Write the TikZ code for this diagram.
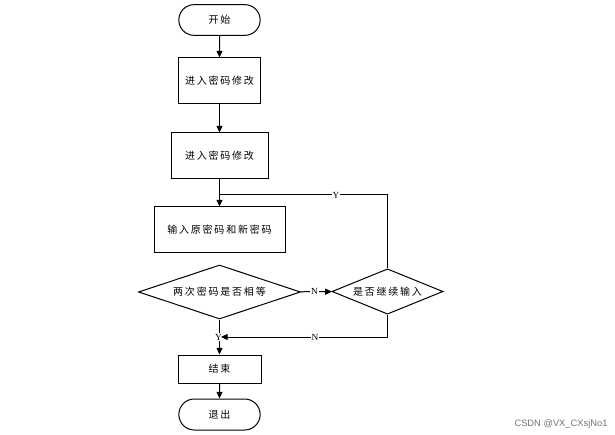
\documentclass[tikz,border=0pt]{standalone}
\usepackage{fontspec}
\setmainfont{Liberation Serif}
\newfontfamily\cjk[LetterSpace=18]{Noto Sans CJK SC}
\newfontfamily\wmfont{Liberation Sans}
\usetikzlibrary{shapes.geometric,shapes.misc,arrows.meta}
\begin{document}
\begin{tikzpicture}[x=0.75pt,y=-0.75pt,
  base/.style={draw,line width=0.75pt,fill=white,inner sep=0pt,font=\cjk\fontsize{7.5}{9}\selectfont},
  term/.style={base,rounded rectangle,minimum width=61pt,minimum height=23pt},
  proc/.style={base,rectangle,minimum height=34.5pt},
  dec/.style={base,diamond},
  conn/.style={line width=0.75pt,-{Triangle[length=5pt,width=4.5pt]}},
  plain/.style={line width=0.75pt},
  lab/.style={fill=white,inner sep=0.6pt,font=\fontsize{7}{8}\selectfont}]
\useasboundingbox (0,0) rectangle (615,435);
\node[term] (start) at (219.5,20) {开始};
\node[proc,minimum width=61.5pt] (p1) at (219.5,81) {进入密码修改};
\node[proc,minimum width=72.75pt] (p2) at (219.5,156) {进入密码修改};
\node[proc,minimum width=98.25pt,minimum height=33.75pt] (p3) at (219.5,229.5) {输入原密码和新密码};
\node[dec,aspect=3,minimum width=121.5pt,minimum height=40.5pt] (d1) at (219.5,292) {两次密码是否相等};
\node[dec,aspect=2.5,minimum width=83.25pt,minimum height=34pt] (d2) at (387.5,291.5) {是否继续输入};
\node[proc,minimum width=62.25pt,minimum height=21pt] (e) at (219.5,369) {结束};
\node[term,minimum height=23.25pt] (x) at (219.5,414.5) {退出};
\coordinate (j) at (219.5,195);
\coordinate (k) at (221,337);
\draw[conn] (start) -- (p1);
\draw[conn] (p1) -- (p2);
\draw[conn] (p2) -- (p3);
\draw[plain] (d2.north) |- (j);
\draw[conn] (d1) -- (d2) node[lab,pos=0.45] {N};
\draw[conn] (d1) -- (e);
\node[lab] (ly2) at (218.5,337) {Y};
\draw[conn] (d2.south) |- (k);
\node[lab] (ly) at (336,195) {Y};
\node[lab] (ln) at (315,337) {N};
\node[font=\wmfont\fontsize{7}{9}\selectfont,text=black!55] (wm) at (561,424) {CSDN @VX\_CXsjNo1};
\draw[conn] (e) -- (x);
\end{tikzpicture}
\end{document}
